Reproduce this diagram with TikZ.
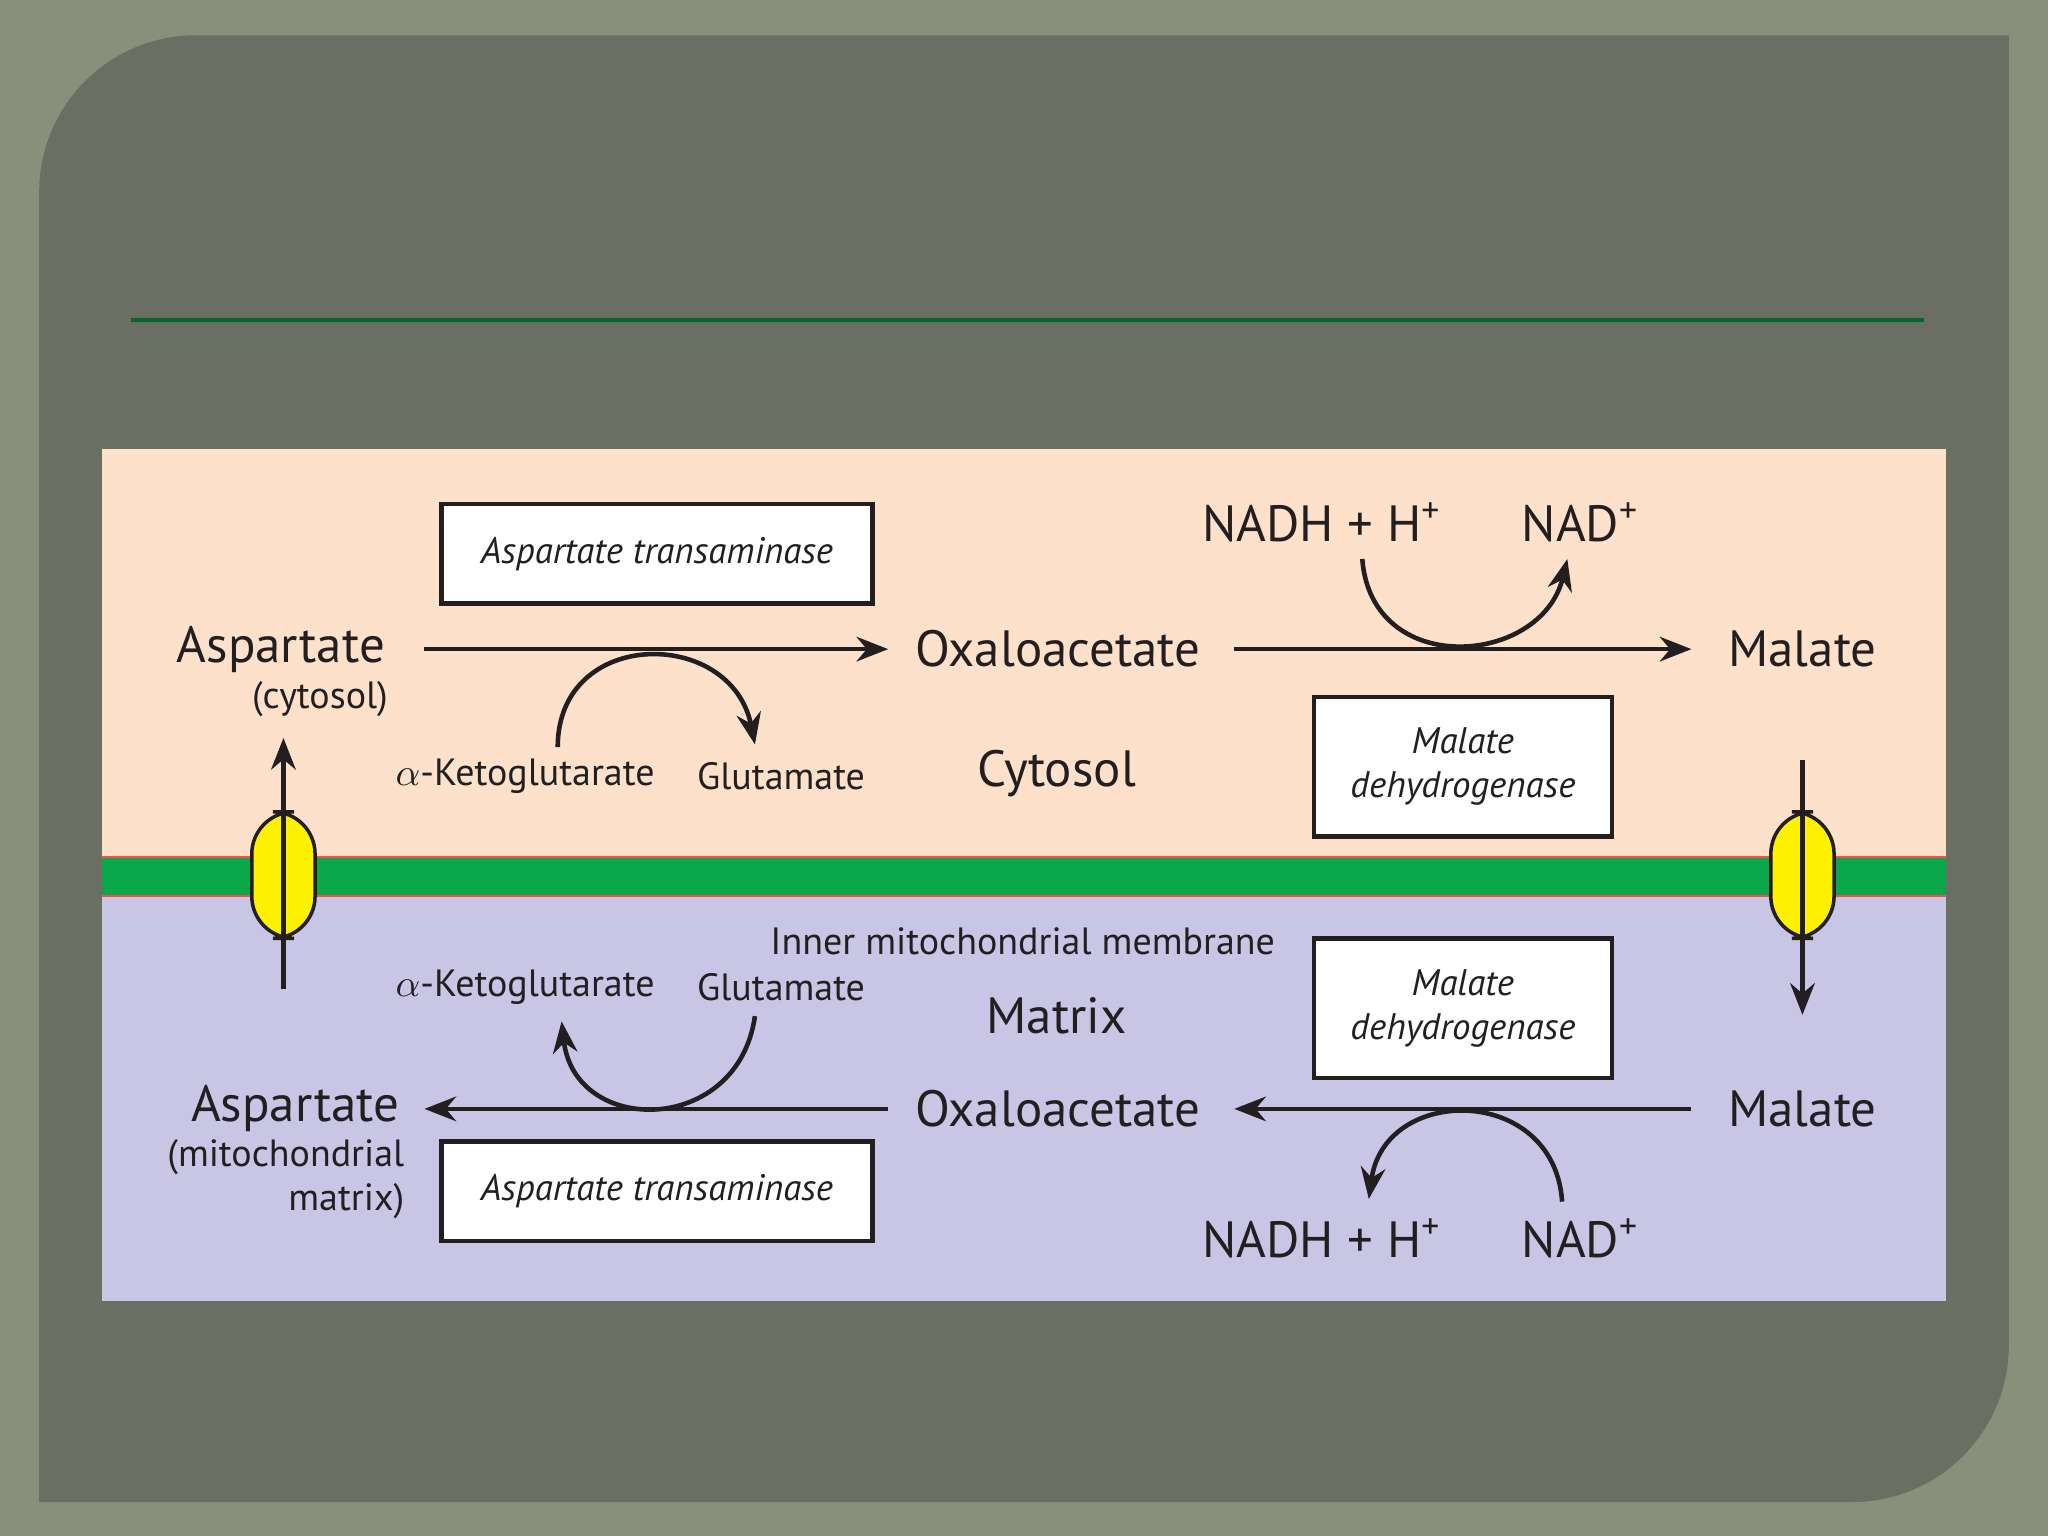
\documentclass[tikz,border=0pt]{standalone}
\usepackage{fontspec}
\setmainfont{PT Sans}
\usetikzlibrary{arrows.meta}
\definecolor{outer}{HTML}{8A8F7C}
\definecolor{panel}{HTML}{6B6E62}
\definecolor{peach}{HTML}{FDE1CB}
\definecolor{lav}{HTML}{C9C5E5}
\definecolor{mem}{HTML}{0AA84A}
\definecolor{tx}{HTML}{231F20}
\begin{document}
\begin{tikzpicture}[x=0.013061cm,y=-0.013061cm,
 big/.style={font=\fontsize{14.5}{16}\selectfont,text=tx,inner sep=0pt},
 sm/.style={font=\fontsize{10.8}{12.5}\selectfont,text=tx,inner sep=0pt},
 box/.style={draw=tx,line width=1.2pt,fill=white,font=\fontsize{10.5}{12.5}\selectfont\itshape,text=tx,align=center},
 arr/.style={draw=tx,line width=1.3pt,-{Stealth[length=9pt,width=7pt]}},
 tr/.style={draw=tx,line width=1pt,fill=yellow,rounded corners=12pt}]
\useasboundingbox (0,0) rectangle (1568,1176);
\fill[outer] (0,0) rectangle (1568,1176);
\fill[panel] (150,27) -- (1538,27) -- (1538,1030) arc[start angle=0,end angle=90,radius=120] -- (30,1150) -- (30,147) arc[start angle=180,end angle=270,radius=120] -- cycle;
\draw[color=mem!60!black,line width=1pt] (100,245) -- (1473,245);
\fill[peach] (78,344) rectangle (1490,656);
\fill[lav] (78,686) rectangle (1490,996);
\fill[mem] (78,656) rectangle (1490,686);
\draw[red!70,line width=0.6pt] (78,656) -- (1490,656) (78,686) -- (1490,686);
% transporters
\node[tr,minimum width=18pt,minimum height=36pt] (t1) at (217,670) {};
\node[tr,minimum width=18pt,minimum height=36pt] (t2) at (1380,670) {};
\coordinate (t1a) at (217,757); \coordinate (t1b) at (217,565);
\coordinate (t2a) at (1380,582); \coordinate (t2b) at (1380,777);
\draw[arr] (t1a) -- (t1b);
\draw[arr] (t2a) -- (t2b);
% top
\node[big] (asp1) at (215,497) {Aspartate};
\node[sm] (cyt) at (245,535) {(cytosol)};
\node[big] (oxa1) at (810,497) {Oxaloacetate};
\node[big] (mal1) at (1380,497) {Malate};
\node[big] (cytosol) at (809,592) {Cytosol};
\node[sm] (akg1) at (402,594) {$\alpha$-Ketoglutarate};
\node[sm] (glu1) at (598,594) {Glutamate};
\node[big] (nadh1) at (1012,400) {NADH + H\textsuperscript{+}};
\node[big] (nad1) at (1210,400) {NAD\textsuperscript{+}};
\node[box,minimum width=330*0.013061cm,minimum height=76*0.013061cm] (at1) at (503,424) {Aspartate transaminase};
\node[box,minimum width=228*0.013061cm,minimum height=107*0.013061cm] (md1) at (1120,587) {Malate\\dehydrogenase};
\coordinate (a1s) at (325,497); \coordinate (a1e) at (680,497);
\coordinate (a2s) at (945,497); \coordinate (a2e) at (1295,497);
\draw[arr] (a1s) -- (a1e);
\draw[arr] (a2s) -- (a2e);
\draw[arr] (427,572) .. controls (427,480) and (560,480) .. (578,570);
\draw[arr] (1043,428) .. controls (1050,520) and (1180,510) .. (1200,428);
% bottom
\node[sm] (imm) at (783,721) {Inner mitochondrial membrane};
\node[sm] (akg2) at (402,756) {$\alpha$-Ketoglutarate};
\node[sm] (glu2) at (598,756) {Glutamate};
\node[big] (matrix) at (809,778) {Matrix};
\node[big] (asp2) at (226,849) {Aspartate};
\node[sm,align=right,anchor=east] (mm) at (310,903) {(mitochondrial\\matrix)};
\node[big] (oxa2) at (810,849) {Oxaloacetate};
\node[big] (mal2) at (1380,849) {Malate};
\node[big] (nadh2) at (1012,948) {NADH + H\textsuperscript{+}};
\node[big] (nad2) at (1210,948) {NAD\textsuperscript{+}};
\node[box,minimum width=330*0.013061cm,minimum height=76*0.013061cm] (at2) at (503,912) {Aspartate transaminase};
\node[box,minimum width=228*0.013061cm,minimum height=107*0.013061cm] (md2) at (1120,772) {Malate\\dehydrogenase};
\coordinate (b1s) at (680,849); \coordinate (b1e) at (325,849);
\coordinate (b2s) at (1295,849); \coordinate (b2e) at (945,849);
\draw[arr] (b1s) -- (b1e);
\draw[arr] (b2s) -- (b2e);
\draw[arr] (578,778) .. controls (565,870) and (440,870) .. (430,782);
\draw[arr] (1196,920) .. controls (1190,830) and (1060,830) .. (1048,918);
\end{tikzpicture}
\end{document}
